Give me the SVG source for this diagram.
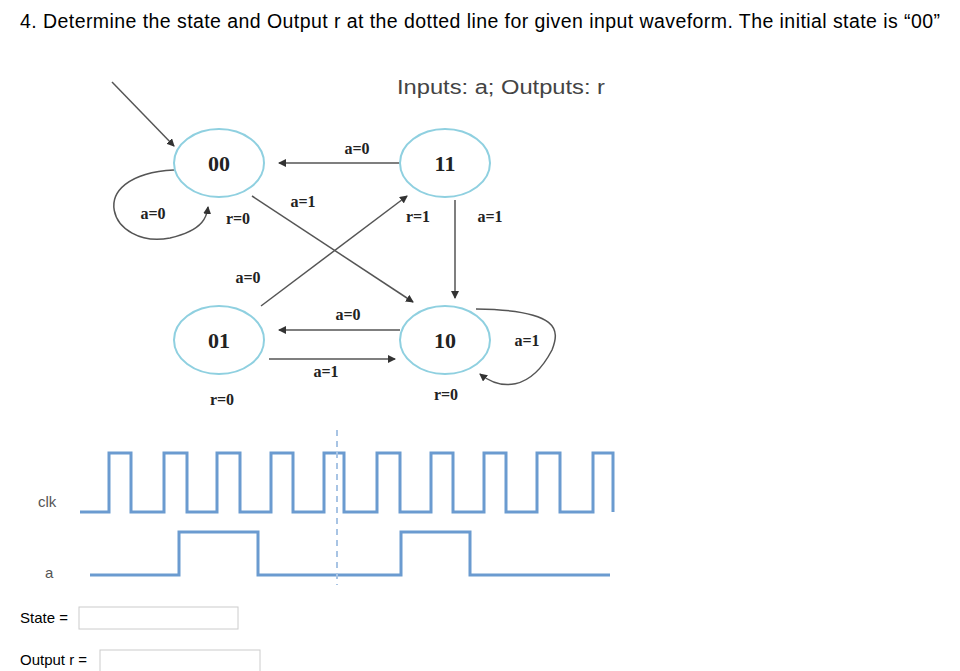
<svg xmlns="http://www.w3.org/2000/svg" width="960" height="671" viewBox="0 0 960 671">
<style>
.st{fill:#fff;stroke:#8fd0e0;stroke-width:2}
.sl{font-family:"Liberation Serif",serif;font-weight:bold;font-size:22px;fill:#222;text-anchor:middle}
.lb{font-family:"Liberation Serif",serif;font-weight:bold;font-size:16px;fill:#222;text-anchor:middle}
.e{fill:none;stroke:#555;stroke-width:1.5;marker-end:url(#ah)}
.w{fill:none;stroke:#6b9bd0;stroke-width:3}
.t{font-family:"Liberation Sans",sans-serif;fill:#000}
.box{fill:#fff;stroke:#ccc;stroke-width:1}
</style>
<defs><marker id="ah" markerWidth="8" markerHeight="8" refX="7" refY="4" orient="auto" markerUnits="userSpaceOnUse"><path d="M0,0 L8,4 L0,8 z" fill="#333"/></marker></defs>
<text class="t" x="20" y="28" font-size="19.5" textLength="920" lengthAdjust="spacing">4. Determine the state and Output r  at the dotted line for given input waveform. The initial state is “00”</text>
<text class="t" x="397" y="94" font-size="19.5" textLength="208" lengthAdjust="spacingAndGlyphs" style="fill:#444">Inputs: a; Outputs: r</text>
<g id="connectors">
<path class="e" d="M112,82 L174,146"/>
<path class="e" d="M400,163 L279,163"/>
<path class="e" d="M252,196 L413,302"/>
<path class="e" d="M261,306 L407,196"/>
<path class="e" d="M455,200 L455,298"/>
<path class="e" d="M400,330 L279,330"/>
<path class="e" d="M269,359 L395,359"/>
<path class="e" d="M174,170 C80,175 110,250 170,238 C205,230 207,215 208,207"/>
<path class="e" d="M476,309 C560,310 560,330 552,350 C530,392 500,390 480,374"/>
</g>
<g id="n00"><ellipse class="st" cx="219" cy="163" rx="45" ry="34"/><text class="sl" x="219" y="171">00</text></g>
<g id="n11"><ellipse class="st" cx="445" cy="163" rx="45" ry="34"/><text class="sl" x="445" y="171">11</text></g>
<g id="n01"><ellipse class="st" cx="219" cy="340" rx="45" ry="34"/><text class="sl" x="219" y="348">01</text></g>
<g id="n10"><ellipse class="st" cx="445" cy="340" rx="45" ry="34"/><text class="sl" x="445" y="348">10</text></g>
<g id="labels">
<text class="lb" x="357" y="154">a=0</text>
<text class="lb" x="303" y="207">a=1</text>
<text class="lb" x="153" y="219">a=0</text>
<text class="lb" x="238" y="224">r=0</text>
<text class="lb" x="418" y="222">r=1</text>
<text class="lb" x="490" y="222">a=1</text>
<text class="lb" x="248" y="283">a=0</text>
<text class="lb" x="348" y="320">a=0</text>
<text class="lb" x="527" y="346">a=1</text>
<text class="lb" x="326" y="377">a=1</text>
<text class="lb" x="222" y="405">r=0</text>
<text class="lb" x="446" y="400">r=0</text>
</g>
<g id="waves">
<path class="w" d="M80,512 H109 V453 H131 V512 H164 V453 H187 V512 H217 V453 H240 V512 H271 V453 H293 V512 H324 V453 H344 V512 H377 V453 H400 V512 H431 V453 H453 V512 H484 V453 H506 V512 H537 V453 H560 V512 H593 V453 H613 V512"/>
<path class="w" d="M90,575 H179 V532 H258 V575 H401 V532 H470 V575 H610"/>
<line x1="337" y1="430" x2="337" y2="585" stroke="#a8c4e4" stroke-width="2" stroke-dasharray="6,5"/>
<text class="t" x="38" y="507" font-size="15" style="fill:#555">clk</text>
<text class="t" x="45" y="578" font-size="15" style="fill:#555">a</text>
</g>
<text class="t" x="20" y="623" font-size="15">State =</text>
<rect class="box" x="79" y="607" width="159" height="22"/>
<text class="t" x="20" y="665" font-size="15">Output r =</text>
<rect class="box" x="100" y="650" width="160" height="22"/>
</svg>
